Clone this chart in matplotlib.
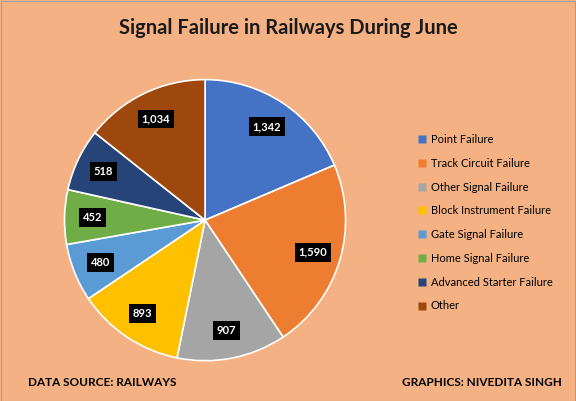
import matplotlib
matplotlib.use("Agg")
import matplotlib.pyplot as plt
from matplotlib.patches import Rectangle
from matplotlib.lines import Line2D

categories = ["Point Failure", "Track Circuit Failure", "Other Signal Failure",
              "Block Instrument Failure", "Gate Signal Failure", "Home Signal Failure",
              "Advanced Starter Failure", "Other"]
values = [1342, 1590, 907, 893, 480, 452, 518, 1034]
colors = ["#4472C4", "#ED7D31", "#A5A5A5", "#FFC000", "#5B9BD5", "#70AD47", "#264478", "#9E480E"]
bg = "#F4B183"

plt.rcParams['font.family'] = ['Lato', 'DejaVu Sans']
fig = plt.figure(figsize=(5.76, 4.01), dpi=100, facecolor=bg)
fig.patches.append(Rectangle((0.001, 0.001), 0.997, 0.997, transform=fig.transFigure,
                             fill=False, edgecolor="#A0A0A0", lw=0.8))

ax = fig.add_axes([0.356 - 0.2465, 0.451 - 0.354, 0.493, 0.708])
ax.set_facecolor(bg)
wedges, texts = ax.pie(values, colors=colors, startangle=90, counterclock=False,
                       wedgeprops=dict(edgecolor="white", linewidth=1.2))
import numpy as np
for w, v in zip(wedges, values):
    ang = np.deg2rad((w.theta1 + w.theta2) / 2)
    ax.text(0.8 * np.cos(ang), 0.8 * np.sin(ang), f"{v:,}", ha="center", va="center",
            color="white", fontsize=8, fontweight="bold",
            bbox=dict(boxstyle="square,pad=0.35", fc="black", ec="none"))
ax.set_xlim(-1.01, 1.01); ax.set_ylim(-1.01, 1.01)
ax.set_aspect("equal")

fig.text(0.5, 1 - 28 / 401, "Signal Failure in Railways During June", ha="center", va="center",
         fontsize=14.5, fontweight="bold", color="#1a1a1a")

handles = [Line2D([], [], marker="s", linestyle="none", markersize=6, markerfacecolor=c,
                  markeredgecolor="none") for c in colors]
fig.legend(handles, categories, loc="upper left", bbox_to_anchor=(0.705, 1 - 124 / 401),
           frameon=False, fontsize=8, labelspacing=1.15, handletextpad=0.3, handlelength=1.0)

fig.text(28 / 576, 1 - 383 / 401, "DATA SOURCE: RAILWAYS", ha="left", va="center",
         fontsize=8.5, fontweight="bold")
fig.text(562 / 576, 1 - 383 / 401, "GRAPHICS: NIVEDITA SINGH", ha="right", va="center",
         fontsize=8.5, fontweight="bold")

fig.savefig("out.png", dpi=100, facecolor=bg)
